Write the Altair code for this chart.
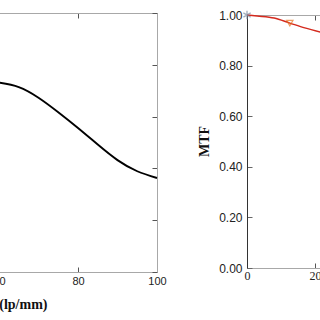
import altair as alt
import pandas as pd

# ---- data ----
left_freq = [60, 65, 70, 75, 80, 85, 90, 95, 100]
left_mtf = [0.731, 0.714, 0.673, 0.617, 0.556, 0.492, 0.432, 0.389, 0.363]

right_freq = [0, 3, 8, 12.6, 17, 22]
right_mtf = [1.0, 0.996, 0.988, 0.968, 0.949, 0.931]

star_freq = [0]
star_mtf = [1.0]
tri_freq = [12.6]
tri_mtf = [0.968]

left_xticks = [60, 80, 100]
left_yticks = [0, 0.2, 0.4, 0.6, 0.8, 1.0]
right_xticks = [0, 20, 40, 60, 80, 100]
right_yticks = [0, 0.2, 0.4, 0.6, 0.8, 1.0]

left_df = pd.DataFrame({"f": left_freq, "m": left_mtf})
right_df = pd.DataFrame({"f": right_freq, "m": right_mtf})
star_df = pd.DataFrame({"f": star_freq, "m": star_mtf})
tri_df = pd.DataFrame({"f": tri_freq, "m": tri_mtf})

FRAME = "#a8a8a8"
TICK = "#555555"

def LX():
    return alt.Scale(domain=[60, 100], range=[-1, 157], nice=False, zero=False)

def LY():
    return alt.Scale(domain=[0, 1], range=[272, 13], nice=False)

def RX():
    return alt.Scale(domain=[0, 100], range=[247, 587], nice=False)

def RY():
    return alt.Scale(domain=[0, 1], range=[268, 15], nice=False)

# ---- left panel ----
left_curve = alt.Chart(left_df).mark_line(color="black", strokeWidth=1.9, interpolate="natural", clip=True).encode(
    x=alt.X("f:Q", scale=LX(), axis=alt.Axis(
        orient="top", offset=-272, values=left_xticks, grid=False,
        domainColor=FRAME, tickColor=TICK, tickSize=5,
        labelFlush=False, labelOverlap=False, labelPadding=-14, labelBaseline="middle",
        labelFont="Liberation Sans", labelFontSize=11, labelColor="#222222",
        title="Spatial Frequency (lp/mm)", titleFont="Liberation Serif", titleFontSize=14,
        titleFontWeight="bold", titleColor="#111111", titleAlign="right",
        titleX=47, titleY=32, titleBaseline="middle")),
    y=alt.Y("m:Q", scale=LY(), axis=alt.Axis(
        orient="left", offset=-157, values=left_yticks, grid=False,
        domainColor=FRAME, tickColor=TICK, tickSize=5, labels=False, title=None)),
)

left_top = alt.Chart(left_df).mark_point(opacity=0).encode(
    x=alt.X("f:Q", scale=LX(), axis=alt.Axis(
        orient="bottom", offset=-307, values=left_xticks, grid=False,
        domainColor=FRAME, tickColor=TICK, tickSize=5, labels=False, title=None)),
    y=alt.Y("m:Q", scale=LY(), axis=None),
)

# ---- right panel ----
right_curve = alt.Chart(right_df).mark_line(color="#d42a1e", strokeWidth=1.5, interpolate="monotone").encode(
    x=alt.X("f:Q", scale=RX(), axis=alt.Axis(
        orient="top", offset=-268, values=right_xticks, grid=False,
        domainColor=FRAME, tickColor=TICK, tickSize=5,
        labelFlush=False, labelOverlap=False, labelPadding=-12, labelBaseline="middle",
        labelFont="Liberation Serif", labelFontSize=12, labelColor="#222222", title=None)),
    y=alt.Y("m:Q", scale=RY(), axis=alt.Axis(
        orient="right", offset=-73, values=right_yticks, format=".2f", grid=False,
        domainColor="#333333", tickColor="#666666", tickSize=5,
        labelAlign="right", labelPadding=-10, labelBaseline="middle",
        labelFont="Liberation Sans", labelFontSize=12, labelColor="#222222",
        labelFlush=False, labelOverlap=False,
        title="MTF", titleFont="Liberation Serif", titleFontSize=14, titleFontWeight="bold",
        titleColor="#111111", titleAngle=270, titleX=-43, titleY=141,
        titleAlign="center", titleBaseline="middle")),
)

right_top = alt.Chart(right_df).mark_point(opacity=0).encode(
    x=alt.X("f:Q", scale=RX(), axis=alt.Axis(
        orient="bottom", offset=-305, values=right_xticks, grid=False,
        domainColor=FRAME, tickColor=TICK, tickSize=5, labels=False, title=None)),
    y=alt.Y("m:Q", scale=RY(), axis=None),
)

star = alt.Chart(star_df).mark_point(
    shape="M0,-1L0,1M-0.87,-0.5L0.87,0.5M-0.87,0.5L0.87,-0.5",
    filled=False, color="#7a8ca0", size=70, strokeWidth=1.3).encode(
    x=alt.X("f:Q", scale=RX(), axis=None),
    y=alt.Y("m:Q", scale=RY(), axis=None),
)

tri = alt.Chart(tri_df).mark_point(
    shape="triangle-down", filled=False, color="#e8741e", size=40, strokeWidth=1.2).encode(
    x=alt.X("f:Q", scale=RX(), axis=None),
    y=alt.Y("m:Q", scale=RY(), axis=None),
)

chart = alt.layer(left_curve, left_top, right_curve, right_top, star, tri).resolve_scale(
    x="independent", y="independent"
).properties(
    width=320, height=320,
    autosize=alt.AutoSizeParams(type="none"),
    padding=0,
    background="white",
).configure_view(stroke=None)

chart.save("out.html", embed_options={"renderer": "svg", "actions": False})
